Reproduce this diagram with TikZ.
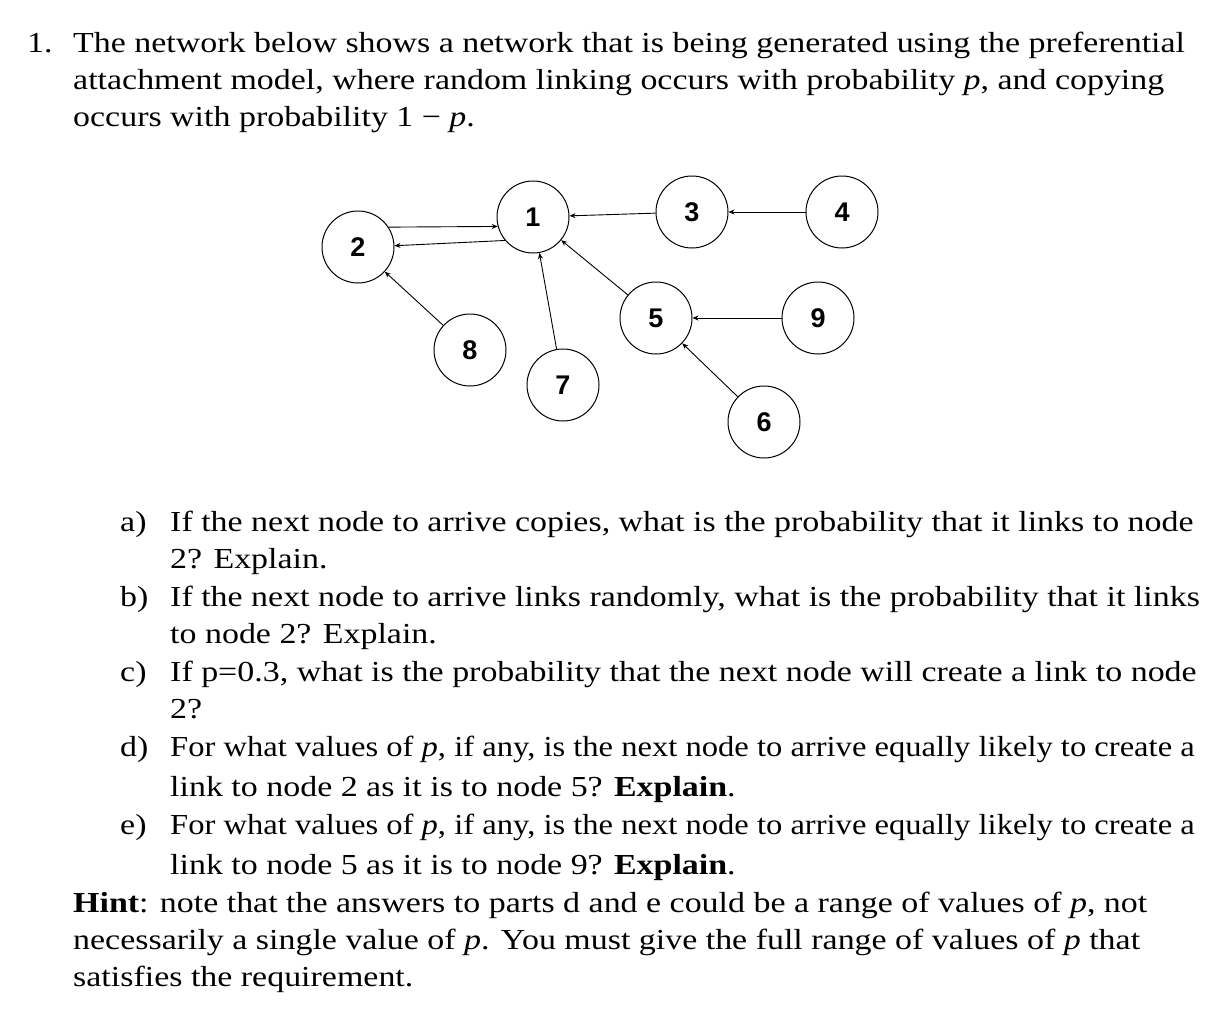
\documentclass[tikz,border=0pt]{standalone}
\usepackage{fontspec}
\usepackage{graphicx}
\setmainfont[FakeStretch=1.17]{Liberation Serif}
\newfontfamily\gsans{Liberation Sans}
\usetikzlibrary{arrows.meta}
\newcommand{\pp}{\textit{p}}
\begin{document}
\begin{tikzpicture}[x=1pt,y=-1pt,
  vert/.style={circle,draw,line width=1pt,minimum size=72pt,inner sep=0pt,font=\gsans\bfseries\fontsize{27}{27}\selectfont},
  edge/.style={-{Stealth[length=6pt,width=5pt]},line width=0.9pt},
  ln/.style={anchor=base west,inner sep=0pt,font=\fontsize{29}{34}\selectfont}]
\useasboundingbox (0,0) rectangle (1213,1009);
\node[ln] (l0) at (27,52) {1.};
\node[ln] (l1) at (73,52) {The network below shows a network that is being generated using the preferential};
\node[ln] (l2) at (73,89) {attachment model, where random linking occurs with probability \pp, and copying};
\node[ln] (l3) at (73,126) {occurs with probability 1 − \pp.};
\node[vert] (n2) at (358,247) {2};
\node[vert] (n1) at (533,217) {1};
\node[vert] (n3) at (692,212) {3};
\node[vert] (n4) at (842,212) {4};
\node[vert] (n5) at (656,318) {5};
\node[vert] (n9) at (818,318) {9};
\node[vert] (n8) at (470,350) {8};
\node[vert] (n7) at (563,385) {7};
\node[vert] (n6) at (764,422) {6};
\draw[edge] (n2.33) -- (n1.195);
\draw[edge] (n1.220) -- (n2.2);
\draw[edge] (n3) -- (n1);
\draw[edge] (n4) -- (n3);
\draw[edge] (n5) -- (n1);
\draw[edge] (n7) -- (n1);
\draw[edge] (n8) -- (n2);
\draw[edge] (n9) -- (n5);
\draw[edge] (n6) -- (n5);
\node[ln] (a) at (120,531) {a)};
\node[ln] (a1) at (170,531) {If the next node to arrive copies, what is the probability that it links to node};
\node[ln] (a2) at (170,568) {2? Explain.};
\node[ln] (b) at (120,606) {b)};
\node[ln] (b1) at (170,606) {If the next node to arrive links randomly, what is the probability that it links};
\node[ln] (b2) at (170,643) {to node 2? Explain.};
\node[ln] (c) at (120,681) {c)};
\node[ln] (c1) at (170,681) {If p=0.3, what is the probability that the next node will create a link to node};
\node[ln] (c2) at (170,718) {2?};
\node[ln] (d) at (120,756) {d)};
\node[ln] (d1) at (170,756) {\scalebox{0.96}[1]{For what values of \pp, if any, is the next node to arrive equally likely to create a}};
\node[ln] (d2) at (170,796) {link to node 2 as it is to node 5? \textbf{Explain}.};
\node[ln] (e) at (120,834) {e)};
\node[ln] (e1) at (170,834) {\scalebox{0.96}[1]{For what values of \pp, if any, is the next node to arrive equally likely to create a}};
\node[ln] (e2) at (170,874) {link to node 5 as it is to node 9? \textbf{Explain}.};
\node[ln] (h1) at (73,912) {\textbf{Hint}: note that the answers to parts d and e could be a range of values of \pp, not};
\node[ln] (h2) at (73,949) {necessarily a single value of \pp. You must give the full range of values of \pp{} that};
\node[ln] (h3) at (73,986) {satisfies the requirement.};
\end{tikzpicture}
\end{document}
